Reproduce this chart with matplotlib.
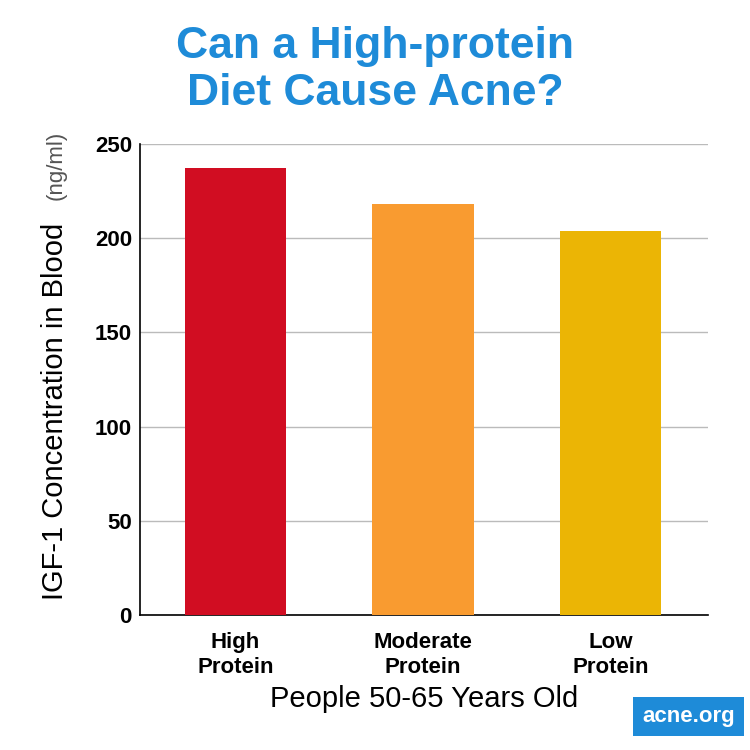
import matplotlib
matplotlib.use("Agg")
import matplotlib.pyplot as plt

categories = ["High\nProtein", "Moderate\nProtein", "Low\nProtein"]
values = [237, 218, 204]
colors = ["#D10D22", "#F99B30", "#EBB505"]
yticks = [0, 50, 100, 150, 200, 250]

fig = plt.figure(figsize=(7.5, 7.5), dpi=100)
ax = fig.add_axes([0.187, 0.18, 0.757, 0.628])
x = range(len(values))
ax.bar(x, values, width=0.54, color=colors, zorder=3)
ax.set_xlim(-0.507, 2.52)
ax.set_ylim(0, 250)
ax.set_yticks(yticks)
ax.set_yticklabels([str(t) for t in yticks], fontsize=16, fontweight="bold", family="Liberation Sans")
ax.set_xticks(list(x))
ax.set_xticklabels(categories, fontsize=16, fontweight="bold", family="Liberation Sans", linespacing=1.25)
ax.tick_params(axis="y", length=0, pad=6)
ax.tick_params(axis="x", length=0, pad=12)
ax.grid(axis="y", color="#BBBBBB", linewidth=1, zorder=0)
for s in ["top", "right"]:
    ax.spines[s].set_visible(False)
ax.spines["left"].set_linewidth(1.2)
ax.spines["bottom"].set_linewidth(1.2)
ax.set_xlabel("People 50-65 Years Old", fontsize=21, family="Liberation Sans", labelpad=5)
fig.text(0.073, 0.2, "IGF-1 Concentration in Blood", rotation=90, fontsize=21,
         family="Liberation Sans", ha="center", va="bottom")
fig.text(0.075, 0.825, "(ng/ml)", rotation=90, fontsize=16, color="#555555",
         family="Liberation Sans", ha="center", va="top")
fig.text(0.5, 0.907, "Can a High-protein\nDiet Cause Acne?", fontsize=32, fontweight="bold",
         color="#1E8BD8", family="Liberation Sans", ha="center", va="center", linespacing=1.2)
fig.text(0.98, 0.045, "acne.org", fontsize=16, fontweight="bold", color="white",
         family="Liberation Sans", ha="right", va="center",
         bbox=dict(boxstyle="square,pad=0.4", fc="#1E8BD8", ec="none"))
fig.savefig("out.png", dpi=100)
